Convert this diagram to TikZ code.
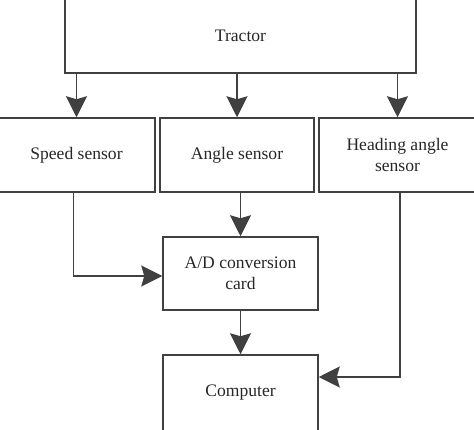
\documentclass[tikz,border=0pt]{standalone}
\usepackage{fontspec}
\setmainfont{Liberation Serif}
\usetikzlibrary{arrows.meta}
\definecolor{linegray}{RGB}{64,64,64}

\begin{document}
\begin{tikzpicture}[
	block/.style = {draw = linegray, line width = 0.85pt, align = center, minimum height = 1.48cm, text = black!85, font = \fontsize{10}{11.8}\selectfont},
	flow/.style = {draw = linegray, line width = 0.85pt, -{Stealth[length = 4.2mm, width = 4.2mm, inset = 0.6mm]}}
]
	\useasboundingbox (0, 0) rectangle (9.48, -8.58);
	\node[block, minimum width = 7.02cm, minimum height = 1.50cm] (tractor) at (4.81, -0.71) {Tractor};
	\node[block, minimum width = 3.14cm] (speed)   at (1.53, -3.10) {Speed sensor};
	\node[block, minimum width = 3.08cm] (angle)   at (4.74, -3.10) {Angle sensor};
	\node[block, minimum width = 3.14cm] (heading) at (7.95, -3.10) {Heading angle\\sensor};
	\node[block, minimum width = 3.10cm, minimum height = 1.46cm] (ad) at (4.81, -5.47) {A/D conversion\\card};
	\node[block, minimum width = 3.10cm, minimum height = 1.52cm] (computer) at (4.81, -7.86) {Computer};

	\draw[flow] (tractor.south -| speed)   -- (speed.north);
	\draw[flow] (tractor.south -| angle)   -- (angle.north);
	\draw[flow] (tractor.south -| heading) -- (heading.north);
	\draw[flow] ([xshift = -0.06cm] speed.south) |- ([yshift = -0.05cm] ad.west);
	\draw[flow] (angle.south -| ad.north) -- (ad.north);
	\draw[flow] (ad.south) -- (computer.north);
	\draw[flow] ([xshift = 0.05cm] heading.south) |- ([yshift = 0.32cm] computer.east);
\end{tikzpicture}
\end{document}
